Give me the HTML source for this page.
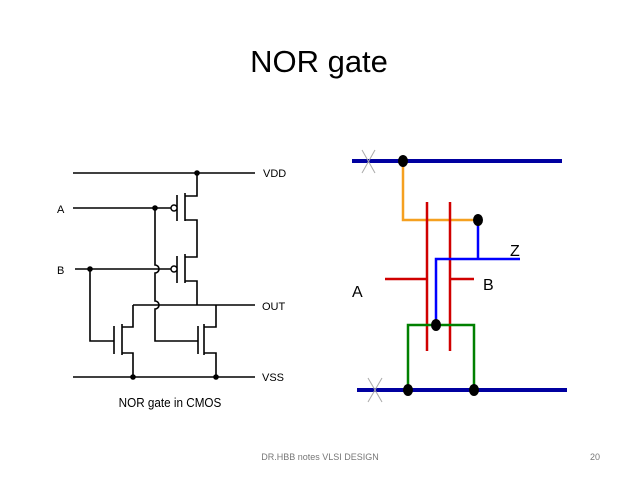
<!DOCTYPE html>
<html><head><style>
body{margin:0;background:#fff;}
svg{display:block}
</style></head><body>
<svg width="638" height="478" xmlns="http://www.w3.org/2000/svg">
<rect width="638" height="478" fill="#fff"/>
<text x="319" y="72" font-family="Liberation Sans, sans-serif" font-size="31" text-anchor="middle" fill="#000">NOR gate</text>
<g stroke="#000" stroke-width="1.6" fill="none">
<line x1="73" y1="173" x2="255" y2="173"/>
<line x1="73" y1="208" x2="171" y2="208"/>
<line x1="75" y1="269" x2="171" y2="269"/>
<line x1="133" y1="305" x2="255" y2="305"/>
<line x1="73" y1="377" x2="255" y2="377"/>
<!-- pmos A -->
<line x1="177" y1="195" x2="177" y2="221"/>
<line x1="185" y1="193" x2="185" y2="221"/>
<polyline points="197,173 197,196 185,196"/>
<polyline points="185,220 197,220 197,257 185,257"/>
<!-- pmos B -->
<line x1="177" y1="256" x2="177" y2="283"/>
<line x1="185" y1="254" x2="185" y2="283"/>
<polyline points="185,281 197,281 197,305"/>
<!-- A vertical with hops -->
<path d="M155,208 V265 a4,4 0 0 1 0,8 V301 a4,4 0 0 1 0,8 V341 H198"/>
<!-- nmos2 -->
<line x1="198" y1="326" x2="198" y2="354"/>
<line x1="204" y1="324" x2="204" y2="355"/>
<polyline points="204,327 216,327 216,305"/>
<polyline points="204,353 216,353 216,377"/>
<!-- nmos1 -->
<polyline points="90,269 90,341 114,341"/>
<line x1="114" y1="326" x2="114" y2="354"/>
<line x1="122" y1="324" x2="122" y2="355"/>
<polyline points="122,327 133,327 133,305"/>
<polyline points="122,353 133,353 133,377"/>
</g>
<g fill="#fff" stroke="#000" stroke-width="1.4">
<circle cx="174" cy="208" r="3"/><circle cx="174" cy="269" r="3"/>
</g>
<g fill="#000">
<circle cx="197" cy="173" r="2.8"/><circle cx="155" cy="208" r="2.8"/><circle cx="90" cy="269" r="2.8"/>
<circle cx="133" cy="377" r="2.8"/><circle cx="216" cy="377" r="2.8"/>
</g>
<g font-family="Liberation Sans, sans-serif" font-size="11" fill="#000">
<text x="263" y="177">VDD</text><text x="57" y="213">A</text><text x="57" y="274">B</text>
<text x="262" y="310">OUT</text><text x="262" y="381">VSS</text>
</g>
<text x="170" y="407" font-family="Liberation Sans Narrow, Liberation Sans, sans-serif" font-size="13" text-anchor="middle" fill="#000" transform="translate(170 0) scale(0.9 1) translate(-170 0)">NOR gate in CMOS</text>
<!-- stick diagram -->
<g stroke="#0000a0" stroke-width="4"><line x1="352" y1="161" x2="562" y2="161"/><line x1="357" y1="390" x2="567" y2="390"/></g>
<g stroke="#aaa" stroke-width="1"><line x1="362" y1="150" x2="375" y2="173"/><line x1="375" y1="150" x2="362" y2="173"/>
<line x1="368" y1="378" x2="382" y2="402"/><line x1="382" y1="378" x2="368" y2="402"/></g>
<polyline points="403,161 403,220 478,220" stroke="#f5a020" stroke-width="2.5" fill="none"/>
<g stroke="#d00000" stroke-width="2.5"><line x1="427" y1="202" x2="427" y2="351"/><line x1="450" y1="202" x2="450" y2="351"/>
<line x1="385" y1="279" x2="427" y2="279"/><line x1="450" y1="279" x2="474" y2="279"/></g>
<polyline points="408,390 408,325 474,325 474,390" stroke="#008000" stroke-width="2.5" fill="none"/>
<g stroke="#0000ff" stroke-width="2.5" fill="none"><polyline points="478,220 478,259"/><polyline points="436,325 436,259 520,259"/></g>
<g fill="#000"><ellipse cx="403" cy="161" rx="5" ry="6"/><ellipse cx="478" cy="220" rx="5" ry="6"/><ellipse cx="436" cy="325" rx="5" ry="6"/>
<ellipse cx="408" cy="390" rx="5" ry="6"/><ellipse cx="474" cy="390" rx="5" ry="6"/></g>
<g font-family="Liberation Sans, sans-serif" font-size="16" fill="#000">
<text x="510" y="256">Z</text><text x="352" y="297">A</text><text x="483" y="290">B</text></g>
<text x="320" y="460" font-family="Liberation Sans, sans-serif" font-size="9" fill="#777" text-anchor="middle">DR.HBB notes VLSI DESIGN</text>
<text x="590" y="460" font-family="Liberation Sans, sans-serif" font-size="9" fill="#777">20</text>
</svg>
</body></html>
